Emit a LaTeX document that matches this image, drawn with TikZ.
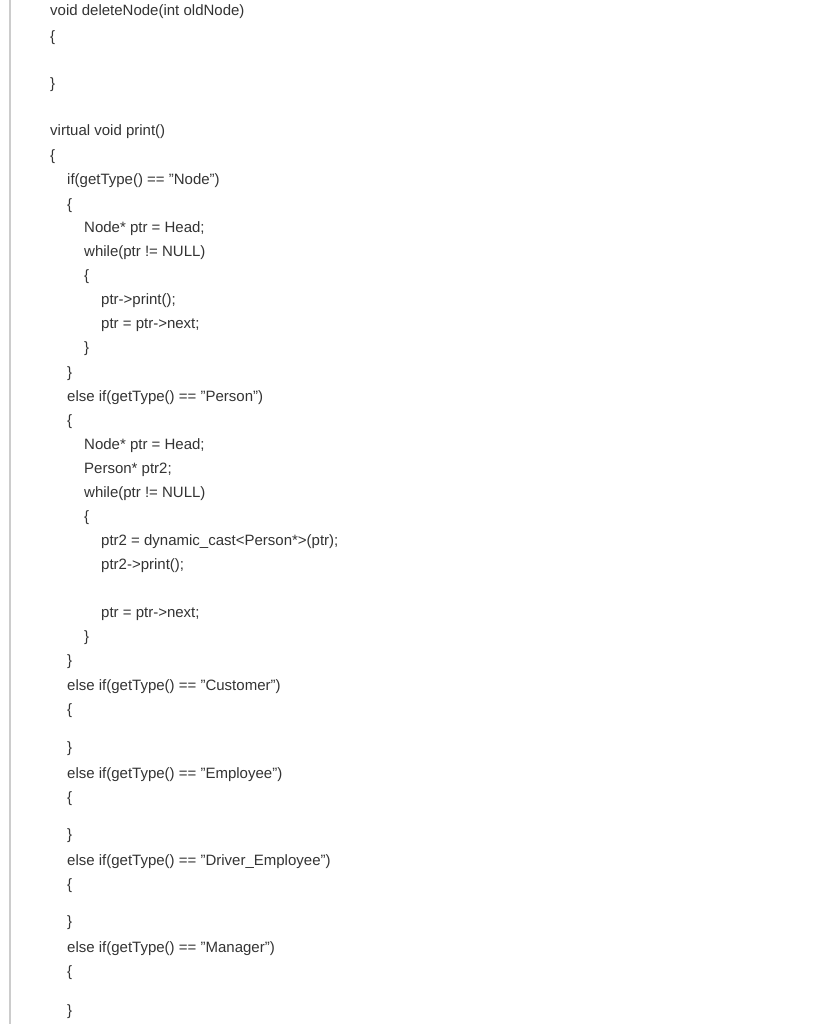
\documentclass[tikz,border=0pt]{standalone}
\usepackage{fontspec}
\setmainfont{Liberation Sans}
\begin{document}
\begin{tikzpicture}[x=1pt,y=-1pt,
  code/.style={anchor=west,inner sep=0pt,text=black!80,font=\fontsize{15}{18}\selectfont}]
\useasboundingbox (0,0) rectangle (812,1024);
\draw[black!20,line width=1.2pt] (10,0) -- (10,1024);
\foreach \n/\x/\y/\t in {
 a/50/12/{void deleteNode(int oldNode)},
 b/50/38/\{,
 c/50/85/\},
 d/50/132/{virtual void print()},
 e/50/157/\{,
 f/67/181/{if(getType() == "Node")},
 g/67/206/\{,
 h/84/229/{Node* ptr = Head;},
 i/84/253/{while(ptr != NULL)},
 j/84/277/\{,
 k/101/301/{ptr->print();},
 l/101/325/{ptr = ptr->next;},
 m/84/349/\},
 n/67/374/\},
 o/67/398/{else if(getType() == "Person")},
 p/67/422/\{,
 q/84/446/{Node* ptr = Head;},
 r/84/470/{Person* ptr2;},
 s/84/494/{while(ptr != NULL)},
 t/84/518/\{,
 u/101/542/{ptr2 = dynamic\_cast<Person*>(ptr);},
 v/101/566/{ptr2->print();},
 w/101/614/{ptr = ptr->next;},
 x/84/638/\},
 y/67/662/\},
 z/67/687/{else if(getType() == "Customer")},
 aa/67/711/\{,
 ab/67/749/\},
 ac/67/775/{else if(getType() == "Employee")},
 ad/67/799/\{,
 ae/67/836/\},
 af/67/862/{else if(getType() == "Driver\_Employee")},
 ag/67/886/\{,
 ah/67/923/\},
 ai/67/949/{else if(getType() == "Manager")},
 aj/67/973/\{,
 ak/67/1012/\}}
 \node[code] (\n) at (\x,\y) {\t};
\end{tikzpicture}
\end{document}
